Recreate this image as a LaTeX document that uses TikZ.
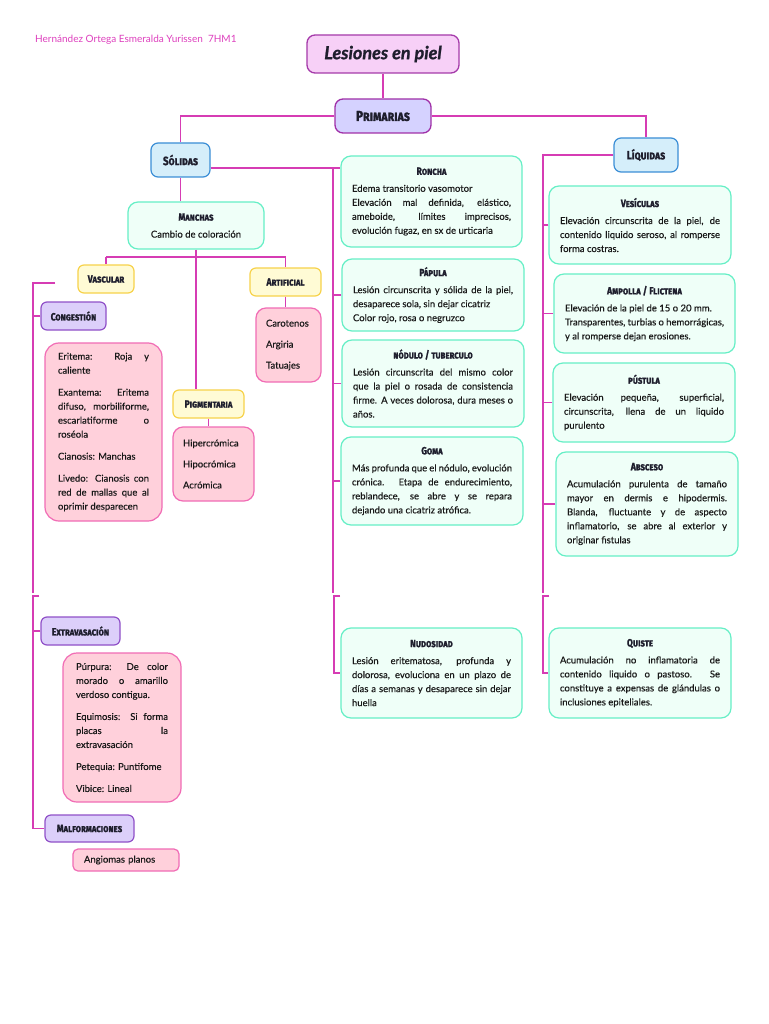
\documentclass[tikz,border=0pt]{standalone}
\usepackage{fontspec}
\setmainfont{Lato}[UprightFeatures={FakeBold=0.35}]
\newfontfamily\hdfont[FakeStretch=0.82,Letters=SmallCaps,BoldFeatures={FakeBold=1.3}]{Fira Sans}
\newfontfamily\ttlfont[BoldItalicFeatures={FakeBold=1.2}]{Lato}
\newfontfamily\namefont{Lato}
\definecolor{lnc}{RGB}{214,60,180}
\definecolor{ttlf}{RGB}{247,208,247}
\definecolor{ttld}{RGB}{165,58,170}
\definecolor{prif}{RGB}{213,210,255}
\definecolor{prid}{RGB}{160,48,168}
\definecolor{bluf}{RGB}{213,238,250}
\definecolor{blud}{RGB}{59,142,214}
\definecolor{minf}{RGB}{239,255,248}
\definecolor{mind}{RGB}{102,239,198}
\definecolor{yelf}{RGB}{255,251,213}
\definecolor{yeld}{RGB}{247,210,74}
\definecolor{pinf}{RGB}{255,208,219}
\definecolor{pind}{RGB}{241,108,181}
\definecolor{lavf}{RGB}{220,207,250}
\definecolor{lavd}{RGB}{144,80,200}
\definecolor{txt}{RGB}{25,25,25}
\definecolor{hdc}{RGB}{30,30,45}
\definecolor{namec}{RGB}{222,64,190}
\newcommand\hdf{\color{hdc}\hdfont\bfseries\fontsize{10.5}{12}\selectfont}
\newcommand\hd[1]{{\centering\hdf #1\par}\vspace{3pt}}
\newcommand\bodyf{\color{txt}\fontsize{9.5}{14}\selectfont\hyphenpenalty=10000\tolerance=9999}
\begin{document}
\begin{tikzpicture}[x=1pt,y=-1pt,
  ln/.style={draw=lnc, line width=1.6pt},
  bx/.style={rounded corners=10pt, line width=1.2pt, inner xsep=11pt, inner ysep=3pt, align=justify, font=\bodyf},
  mint/.style={bx, draw=mind, fill=minf},
  pink/.style={bx, draw=pind, fill=pinf},
  hb/.style={rounded corners=6pt, line width=1.2pt, inner sep=2pt, align=center, font=\hdf},
  yel/.style={hb, draw=yeld, fill=yelf},
  lav/.style={hb, draw=lavd, fill=lavf},
  blu/.style={hb, draw=blud, fill=bluf, rounded corners=7pt},
]
\useasboundingbox[fill=white] (0,0) rectangle (768,1024);

% author
\node[anchor=west, inner sep=0pt, text=namec, font=\namefont\fontsize{10}{12}\selectfont] (name) at (35,40) {Hernández Ortega Esmeralda Yurissen\ \ 7HM1};

% top
\node[rounded corners=8pt, line width=1.3pt, draw=ttld, fill=ttlf, minimum width=152pt, minimum height=38pt, font=\color{hdc}\ttlfont\bfseries\itshape\fontsize{18}{20}\selectfont] (ttl) at (383,54) {Lesiones en piel};
\node[rounded corners=8pt, line width=1.3pt, draw=prid, fill=prif, minimum width=96pt, minimum height=34pt, font=\color{hdc}\hdfont\bfseries\fontsize{14.5}{16}\selectfont] (prim) at (383,116) {Primarias};
\node[blu, minimum width=59pt, minimum height=34pt, font=\color{hdc}\hdfont\bfseries\fontsize{12}{13}\selectfont] (sol) at (180.5,160) {Sólidas};
\node[blu, minimum width=64pt, minimum height=34pt, font=\color{hdc}\hdfont\bfseries\fontsize{12}{13}\selectfont] (liq) at (646,155) {Líquidas};

% middle column
\node[mint, text width=159pt, minimum height=91pt] (ron) at (431.5,201.5) {\hd{Roncha}Edema transitorio vasomotor\par Elevación mal definida, elástico,\linebreak ameboide, límites imprecisos,\linebreak evolución fugaz, en sx de urticaria};
\node[mint, text width=160pt, minimum height=72pt] (pap) at (433,295) {\hd{Pápula}Lesión circunscrita y sólida de la piel,\linebreak desaparece sola, sin dejar cicatriz\par Color rojo, rosa o negruzco};
\node[mint, text width=160pt, minimum height=87pt] (nod) at (433,383.5) {\hd{nódulo / tuberculo}Lesión circunscrita del mismo color\linebreak que la piel o rosada de consistencia\linebreak firme. A veces dolorosa, dura meses o\linebreak años.};
\node[mint, text width=160pt, minimum height=88pt] (gom) at (432,481) {\hd{Goma}Más profunda que el nódulo, evolución\linebreak crónica. Etapa de endurecimiento,\linebreak reblandece, se abre y se repara\linebreak dejando una cicatriz atrófica.};
\node[mint, text width=159pt, minimum height=90pt] (nud) at (431.5,673) {\hd{Nudosidad}Lesión eritematosa, profunda y\linebreak dolorosa, evoluciona en un plazo de\linebreak días a semanas y desaparece sin dejar\linebreak huella};

% right column
\node[mint, text width=160pt, minimum height=78pt] (ves) at (640,225) {\hd{Vesículas}Elevación circunscrita de la piel, de\linebreak contenido liquido seroso, al romperse\linebreak forma costras.};
\node[mint, text width=159pt, minimum height=79pt] (amp) at (644.5,313.5) {\hd{Ampolla / Flictena}Elevación de la piel de 15 o 20 mm.\par Transparentes, turbias o hemorrágicas,\par y al romperse dejan erosiones.};
\node[mint, text width=160pt, minimum height=79pt] (pus) at (644,402.5) {\hd{pústula}Elevación pequeña, superficial,\linebreak circunscrita, llena de un liquido\linebreak purulento};
\node[mint, text width=160pt, minimum height=104pt] (abs) at (647,504) {\hd{Absceso}Acumulación purulenta de tamaño\linebreak mayor en dermis e hipodermis.\linebreak Blanda, fluctuante y de aspecto\linebreak inflamatorio, se abre al exterior y\linebreak originar fistulas};
\node[mint, text width=160pt, minimum height=90pt] (qui) at (640,673) {\hd{Quiste}Acumulación no inflamatoria de\linebreak contenido liquido o pastoso. Se\linebreak constituye a expensas de glándulas o\linebreak inclusiones epiteliales.};

% left side
\node[mint, align=center, minimum width=136pt, minimum height=47pt] (man) at (196,225.5) {{\hdf Manchas}\\[3pt]Cambio de coloración};
\node[yel, minimum width=56pt, minimum height=28pt] (vas) at (106,279) {Vascular};
\node[yel, minimum width=71pt, minimum height=28pt] (art) at (285.5,282) {Artificial};
\node[pink, align=left, inner xsep=10pt, text width=45pt, minimum height=74pt, font=\color{txt}\fontsize{9.5}{21}\selectfont] (car) at (288.5,345) {Carotenos\\Argiria\\Tatuajes};
\node[yel, minimum width=71pt, minimum height=28pt] (pig) at (208.5,404) {Pigmentaria};
\node[pink, align=left, inner xsep=10pt, text width=61pt, minimum height=74pt, font=\color{txt}\fontsize{9.5}{21}\selectfont] (hip) at (213.5,464) {Hipercrómica\\Hipocrómica\\Acrómica};
\node[lav, minimum width=65pt, minimum height=28pt] (con) at (73.5,316) {Congestión};
\node[pink, rounded corners=14pt, inner xsep=13pt, text width=91pt, minimum height=178pt] (cont) at (103.5,432) {Eritema: Roja y\linebreak caliente\par\vspace{8pt}Exantema: Eritema\linebreak difuso, morbiliforme,\linebreak escarlatiforme o\linebreak roséola\par\vspace{8pt}Cianosis: Manchas\par\vspace{8pt}Livedo: Cianosis con\linebreak red de mallas que al\linebreak oprimir desparecen};
\node[lav, minimum width=79pt, minimum height=28pt] (ext) at (80.5,631) {Extravasación};
\node[pink, rounded corners=14pt, inner xsep=13pt, text width=92pt, minimum height=149pt] (extt) at (122,727.5) {Púrpura: De color\linebreak morado o amarillo\linebreak verdoso contigua.\par\vspace{8pt}Equimosis: Si forma\linebreak placas la\linebreak extravasación\par\vspace{8pt}Petequia: Puntifome\par\vspace{8pt}Vibice: Lineal};
\node[lav, minimum width=89pt, minimum height=27pt] (mal) at (89.5,828.5) {Malformaciones};
\node[pink, rounded corners=5pt, align=left, minimum width=106pt, minimum height=22pt, text width=84pt] (ang) at (126,860) {Angiomas planos};

% connectors top
\draw[ln] (ttl.south) -- (prim.north);
\draw[ln] (prim.west) -| (sol.north);
\draw[ln] (prim.east) -| (liq.north);
\draw[ln] (sol.south) -- (sol.south |- man.north);

% middle spine
\coordinate (mtop) at (333,168);
\coordinate (mbot) at (333,593);
\draw[ln] (sol.east |- mtop) -- (ron.west |- mtop);
\draw[ln] (mtop) -- (mbot);
\draw[ln] (pap.west) -- (pap.west -| mtop);
\draw[ln] (nod.west) -- (nod.west -| mtop);
\draw[ln] (gom.west) -- (gom.west -| mtop);
\coordinate (m2tick) at (340,596);
\coordinate (m2top) at (334,596);
\draw[ln] (m2tick) -- (m2top) -- (m2top |- nud.west) -- (nud.west);

% right spine
\coordinate (rtop) at (543,155);
\coordinate (rbot) at (543,593);
\draw[ln] (liq.west) -- (rtop) -- (rbot);
\draw[ln] (ves.west) -- (ves.west -| rtop);
\draw[ln] (amp.west) -- (amp.west -| rtop);
\draw[ln] (pus.west) -- (pus.west -| rtop);
\draw[ln] (abs.west) -- (abs.west -| rtop);
\coordinate (r2tick) at (549,596);
\coordinate (r2top) at (543,596);
\draw[ln] (r2tick) -- (r2top) -- (r2top |- qui.west) -- (qui.west);

% manchas branches
\coordinate (mj) at (196,257);
\draw[ln] (man.south) -- (mj);
\draw[ln] (vas.north |- mj) -- (art.north |- mj);
\draw[ln] (vas.north |- mj) -- (vas.north);
\draw[ln] (art.north |- mj) -- (art.north);
\draw[ln] (mj) -- (mj |- pig.north);
\draw[ln] (art.south) -- (art.south |- car.north);
\draw[ln] (pig.south) -- (pig.south |- hip.north);

% left spine
\coordinate (ltick) at (55,283);
\coordinate (ltop) at (33,283);
\coordinate (lbot) at (33,593);
\draw[ln] (ltick) -- (ltop) -- (lbot);
\draw[ln] (con.west) -- (con.west -| ltop);
\coordinate (l2tick) at (39,596);
\coordinate (l2top) at (33,596);
\draw[ln] (l2tick) -- (l2top) -- (l2top |- mal.west) -- (mal.west);
\draw[ln] (ext.west) -- (ext.west -| l2top);
\end{tikzpicture}
\end{document}
